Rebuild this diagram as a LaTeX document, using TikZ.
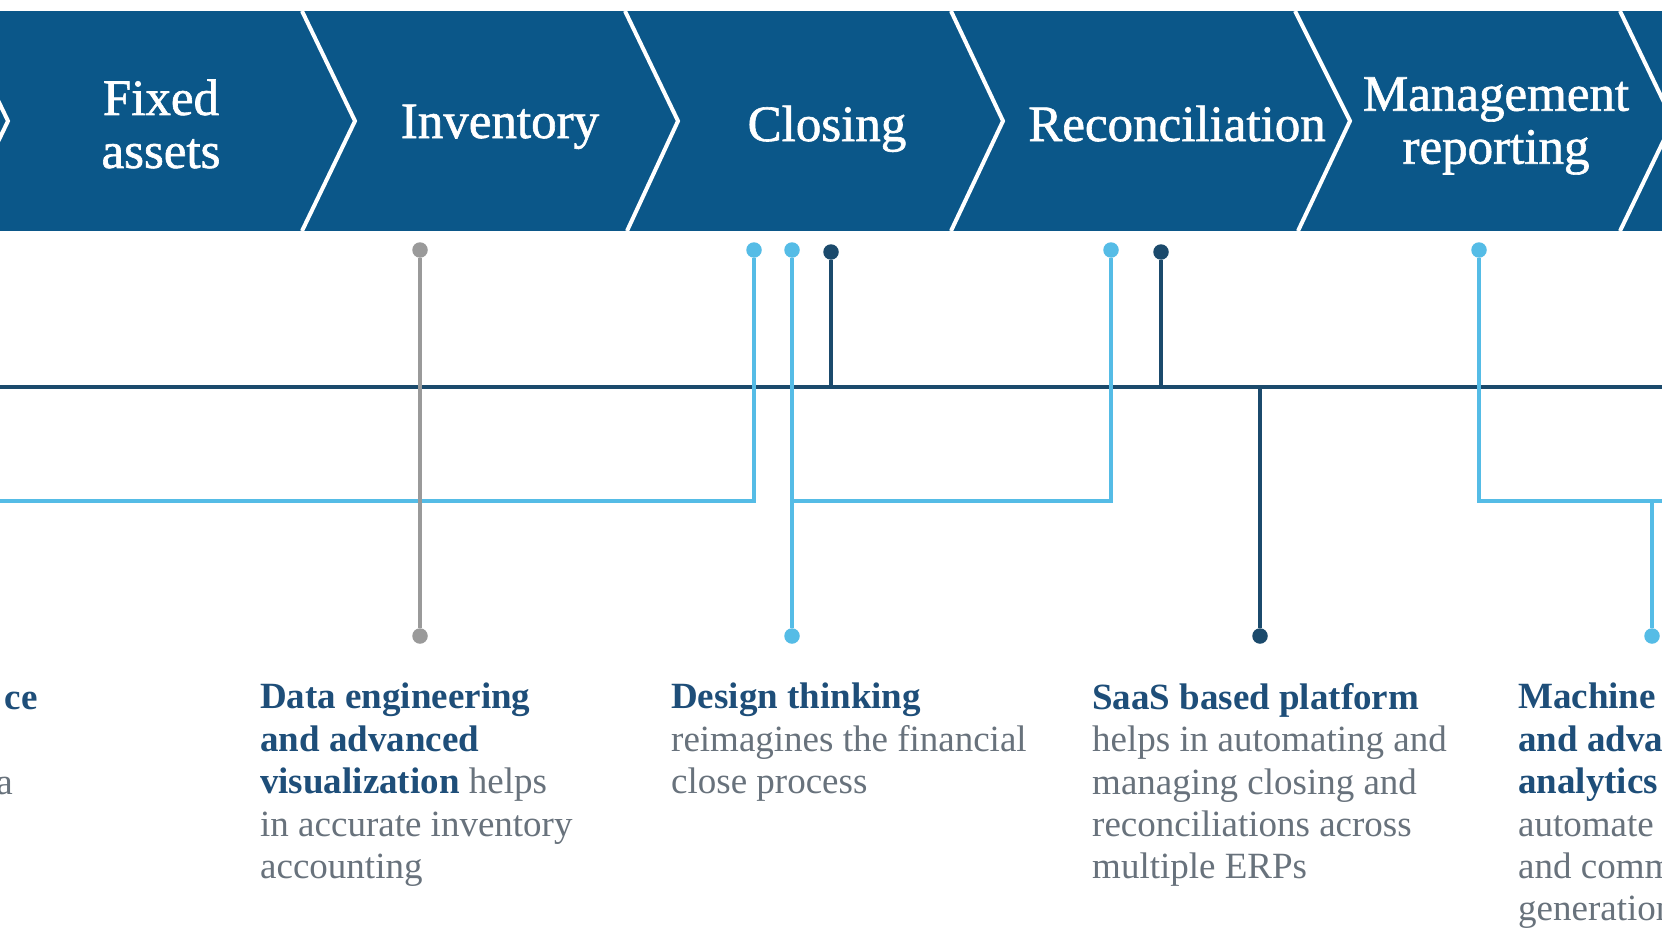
\documentclass[tikz,border=0pt]{standalone}
\usepackage{fontspec}
\setmainfont{Liberation Serif}
\newfontfamily\stagefam[FakeBold=1.2]{Liberation Serif}
\definecolor{bannerblue}{HTML}{0B5789}
\definecolor{navy}{HTML}{1B4A6C}
\definecolor{lblue}{HTML}{55BCE6}
\definecolor{lgray}{HTML}{9A9A9A}
\definecolor{titlecol}{HTML}{1E4E79}
\definecolor{desccol}{HTML}{68727C}
\newcommand\bannerfont{\stagefam\fontsize{51}{53}\selectfont}
\newcommand\descfont{\fontsize{37}{42.4}\selectfont}
\newcommand\ttl[1]{{\bfseries\color{titlecol}#1}}
\tikzset{
  sepline/.style={draw=white, line width=4pt, line join=miter},
  stage/.style={text=white, font=\bannerfont, align=center, inner sep=0pt},
  desc/.style={anchor=north west, align=left, inner sep=0pt, font=\descfont, text=desccol},
  dotnode/.style={circle, inner sep=0pt, minimum size=15.5pt},
  navyline/.style={draw=navy, line width=3.8pt},
  lbline/.style={draw=lblue, line width=3.8pt},
  grayline/.style={draw=lgray, line width=3.8pt},
  navyhline/.style={draw=navy, line width=4.2pt},
  lbhline/.style={draw=lblue, line width=4.2pt},
}
\begin{document}
\begin{tikzpicture}[x=1pt,y=-1pt]
\useasboundingbox (0,0) rectangle (1662,934);
\clip (0,0) rectangle (1662,934);
\fill[white] (0,0) rectangle (1662,934);
% banner
\fill[bannerblue] (0,11) rectangle (1662,231);
\draw[sepline] (-45,11) -- (8,121) -- (-45,231);
\draw[sepline] (302,11) -- (355,121) -- (302,231);
\draw[sepline] (625,11) -- (678,121) -- (627,231);
\draw[sepline] (951,11) -- (1003,121) -- (951,231);
\draw[sepline] (1295,11) -- (1350,121) -- (1298,231);
\draw[sepline] (1620,11) -- (1673,121) -- (1620,231);
\node[stage] (fixed) at (161,124) {Fixed\\assets};
\node[stage, anchor=base] (inventory) at (500,138) {Inventory};
\node[stage, anchor=base] (closing) at (827,141) {Closing};
\node[stage, anchor=base] (recon) at (1177,141) {Reconciliation};
\node[stage] (mgmt) at (1496,126) {Management\\reporting};
% coordinates on the horizontals
\coordinate (navyL) at (0,387);
\coordinate (navyR) at (1662,387);
\coordinate (lbL) at (0,501);
\coordinate (lbR) at (1662,501);
\coordinate (jn1) at (831,387);
\coordinate (jn2) at (1161,387);
\coordinate (jn3) at (1260,387);
\coordinate (jl1) at (792,501);
\coordinate (jl2) at (1652,501);
% top dots
\node[dotnode, fill=lgray] (tg) at (420,250) {};
\node[dotnode, fill=lblue] (tl1) at (754,250) {};
\node[dotnode, fill=lblue] (tl2) at (792,250) {};
\node[dotnode, fill=navy] (tn1) at (831,252) {};
\node[dotnode, fill=lblue] (tl3) at (1111,250) {};
\node[dotnode, fill=navy] (tn2) at (1161,252) {};
\node[dotnode, fill=lblue] (tl4) at (1479,250) {};
% bottom dots
\node[dotnode, fill=lgray] (bg) at (420,636) {};
\node[dotnode, fill=lblue] (bl2) at (792,636) {};
\node[dotnode, fill=navy] (bn3) at (1260,636) {};
\node[dotnode, fill=lblue] (bl4) at (1652,636) {};
% horizontals
\draw[navyhline] (navyL) -- (navyR);
\draw[lbhline] (tl1) |- (lbL);
\draw[lbhline] (tl3) |- (jl1);
\draw[lbhline] (tl4) |- (lbR);
% verticals
\draw[navyline] (tn1) -- (jn1);
\draw[navyline] (tn2) -- (jn2);
\draw[navyline] (jn3) -- (bn3);
\draw[lbline] (tl2) -- (bl2);
\draw[lbline] (jl2) -- (bl4);
\draw[grayline] (tg) -- (bg);
% descriptions
\node[anchor=base east, inner sep=0pt, font=\descfont] (d1a) at (38,709) {\ttl{ce}};
\node[anchor=base east, inner sep=0pt, font=\descfont, text=desccol] (d1b) at (13,794) {a};
\node[desc] (d2) at (260,683) {\ttl{Data engineering}\\\ttl{and advanced}\\\ttl{visualization} helps\\in accurate inventory\\accounting};
\node[desc] (d3) at (671,683) {\ttl{Design thinking}\\reimagines the financial\\close process};
\node[desc] (d4) at (1092,683) {\ttl{SaaS based platform}\\helps in automating and\\managing closing and\\reconciliations across\\multiple ERPs};
\node[desc] (d5) at (1518,683) {\ttl{Machine}\\\ttl{and adva}\\\ttl{analytics}\\automate\\and comm\\generation};
\end{tikzpicture}
\end{document}
